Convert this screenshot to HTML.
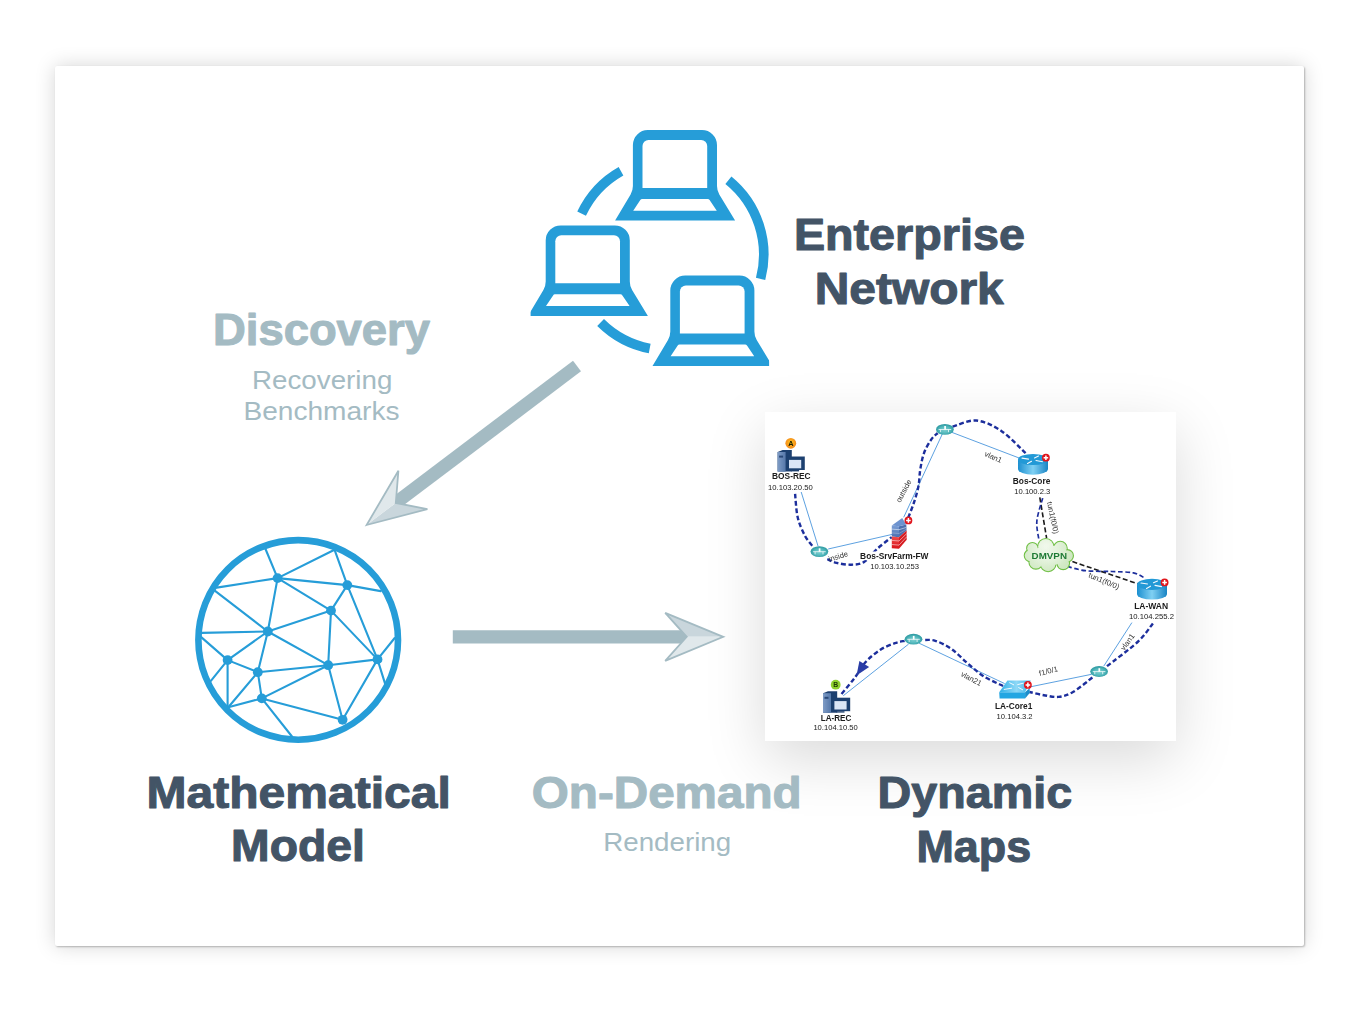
<!DOCTYPE html>
<html lang="en"><head><meta charset="utf-8"><title>Dynamic Maps</title>
<style>
html,body{margin:0;padding:0;background:#fff;}
body{width:1363px;height:1033px;position:relative;overflow:hidden;font-family:"Liberation Sans",Arial,sans-serif;}
.card{position:absolute;left:55px;top:66px;width:1249px;height:879.5px;background:#fff;border-radius:2px;box-shadow:1px 1px 2px rgba(0,0,0,.25),0 0 20px rgba(0,0,0,.17);}
.map{position:absolute;left:765px;top:412px;width:410.5px;height:328.5px;background:#fff;box-shadow:0 18px 56px rgba(0,0,0,.15);}
svg{position:absolute;left:0;top:0;}
svg text{font-family:"Liberation Sans",Arial,sans-serif;}
</style></head><body>
<div class="card"></div>
<div class="map"></div>
<svg width="1363" height="1033" viewBox="0 0 1363 1033">
<clipPath id="ec"><rect x="530.6" y="120" width="238.5" height="260"/></clipPath><g clip-path="url(#ec)">
<path d="M581.6 213.6 A95.7 95.7 0 0 1 621.0 171.2" fill="none" stroke="#269dd8" stroke-width="9.6"/>
<path d="M728.4 180.3 A95.7 95.7 0 0 1 760.6 278.9" fill="none" stroke="#269dd8" stroke-width="9.6"/>
<path d="M649.7 348.5 A95.7 95.7 0 0 1 600.6 322.5" fill="none" stroke="#269dd8" stroke-width="9.6"/>
<g transform="translate(632.9,130.1)"><path fill="#269dd8" d="M15 0 H69.1 A15 15 0 0 1 84.1 15 V56 Q84.1 60.5 86.4 64.5 L102.2 90.5 H-17.8 L-2.3 64.5 Q0 60.5 0 56 V15 A15 15 0 0 1 15 0 Z"/><path fill="#fff" d="M15.6 9.9 H68.3 A6 6 0 0 1 74.3 15.9 V57.8 H9.6 V15.9 A6 6 0 0 1 15.6 9.9 Z"/><path fill="#fff" d="M9.2 68.9 H74.8 Q76 68.9 76.7 70 L83.9 80.6 H0.3 L7.4 70 Q8 68.9 9.2 68.9 Z"/></g>
<g transform="translate(545.7,225.4)"><path fill="#269dd8" d="M15 0 H69.1 A15 15 0 0 1 84.1 15 V56 Q84.1 60.5 86.4 64.5 L102.2 90.5 H-17.8 L-2.3 64.5 Q0 60.5 0 56 V15 A15 15 0 0 1 15 0 Z"/><path fill="#fff" d="M15.6 9.9 H68.3 A6 6 0 0 1 74.3 15.9 V57.8 H9.6 V15.9 A6 6 0 0 1 15.6 9.9 Z"/><path fill="#fff" d="M9.2 68.9 H74.8 Q76 68.9 76.7 70 L83.9 80.6 H0.3 L7.4 70 Q8 68.9 9.2 68.9 Z"/></g>
<g transform="translate(670.3,275.6)"><path fill="#269dd8" d="M15 0 H69.1 A15 15 0 0 1 84.1 15 V56 Q84.1 60.5 86.4 64.5 L102.2 90.5 H-17.8 L-2.3 64.5 Q0 60.5 0 56 V15 A15 15 0 0 1 15 0 Z"/><path fill="#fff" d="M15.6 9.9 H68.3 A6 6 0 0 1 74.3 15.9 V57.8 H9.6 V15.9 A6 6 0 0 1 15.6 9.9 Z"/><path fill="#fff" d="M9.2 68.9 H74.8 Q76 68.9 76.7 70 L83.9 80.6 H0.3 L7.4 70 Q8 68.9 9.2 68.9 Z"/></g>
</g>
<line x1="577.0" y1="366.0" x2="394.6" y2="503.8" stroke="#a4bbc3" stroke-width="13.2"/><path d="M366.6 525.0 L427.4 509.1 L395.8 502.9 Z" fill="#c9d6dc"/><path d="M366.6 525.0 L398.4 470.8 L395.8 502.9 Z" fill="#e0e8eb"/><path d="M366.6 525.0 L427.4 509.1 L395.8 502.9 L398.4 470.8 Z" fill="none" stroke="#a4bbc3" stroke-width="1.8" stroke-linejoin="miter"/>
<line x1="452.8" y1="636.8" x2="688.1" y2="636.8" stroke="#a4bbc3" stroke-width="13.2"/><path d="M723.3 636.8 L665.2 612.8 L686.7 636.8 Z" fill="#c9d6dc"/><path d="M723.3 636.8 L665.2 660.8 L686.7 636.8 Z" fill="#e0e8eb"/><path d="M723.3 636.8 L665.2 612.8 L686.7 636.8 L665.2 660.8 Z" fill="none" stroke="#a4bbc3" stroke-width="1.8" stroke-linejoin="miter"/>
<g stroke="#269dd8" stroke-width="2.1" fill="none" stroke-linecap="round"><line x1="277.6" y1="578.1" x2="347.3" y2="585.1"/><line x1="277.6" y1="578.1" x2="331.0" y2="610.6"/><line x1="277.6" y1="578.1" x2="267.8" y2="631.5"/><line x1="347.3" y1="585.1" x2="331.0" y2="610.6"/><line x1="347.3" y1="585.1" x2="377.5" y2="659.4"/><line x1="331.0" y1="610.6" x2="267.8" y2="631.5"/><line x1="331.0" y1="610.6" x2="328.2" y2="665.2"/><line x1="331.0" y1="610.6" x2="377.5" y2="659.4"/><line x1="267.8" y1="631.5" x2="227.6" y2="660.1"/><line x1="267.8" y1="631.5" x2="257.8" y2="672.2"/><line x1="267.8" y1="631.5" x2="328.2" y2="665.2"/><line x1="227.6" y1="660.1" x2="257.8" y2="672.2"/><line x1="257.8" y1="672.2" x2="328.2" y2="665.2"/><line x1="257.8" y1="672.2" x2="261.8" y2="698.4"/><line x1="328.2" y1="665.2" x2="377.5" y2="659.4"/><line x1="328.2" y1="665.2" x2="261.8" y2="698.4"/><line x1="328.2" y1="665.2" x2="342.6" y2="719.8"/><line x1="377.5" y1="659.4" x2="342.6" y2="719.8"/><line x1="261.8" y1="698.4" x2="342.6" y2="719.8"/><line x1="265.5" y1="549.0" x2="277.6" y2="578.1"/><line x1="334.5" y1="549.7" x2="277.6" y2="578.1"/><line x1="334.5" y1="549.7" x2="347.3" y2="585.1"/><line x1="216.7" y1="587.6" x2="277.6" y2="578.1"/><line x1="214.4" y1="590.4" x2="267.8" y2="631.5"/><line x1="380.7" y1="591.1" x2="347.3" y2="585.1"/><line x1="201.6" y1="632.9" x2="267.8" y2="631.5"/><line x1="200.9" y1="636.9" x2="227.6" y2="660.1"/><line x1="394.7" y1="638.0" x2="377.5" y2="659.4"/><line x1="210.9" y1="680.8" x2="227.6" y2="660.1"/><line x1="227.6" y1="706.3" x2="227.6" y2="660.1"/><line x1="228.3" y1="707.3" x2="257.8" y2="672.2"/><line x1="228.3" y1="707.3" x2="261.8" y2="698.4"/><line x1="292.0" y1="736.5" x2="261.8" y2="698.4"/><line x1="384.9" y1="683.1" x2="377.5" y2="659.4"/></g><g fill="#269dd8"><circle cx="277.6" cy="578.1" r="4.9"/><circle cx="347.3" cy="585.1" r="4.9"/><circle cx="331" cy="610.6" r="4.9"/><circle cx="267.8" cy="631.5" r="4.9"/><circle cx="227.6" cy="660.1" r="4.9"/><circle cx="257.8" cy="672.2" r="4.9"/><circle cx="328.2" cy="665.2" r="4.9"/><circle cx="377.5" cy="659.4" r="4.9"/><circle cx="261.8" cy="698.4" r="4.9"/><circle cx="342.6" cy="719.8" r="4.9"/></g><circle cx="298.2" cy="639.9" r="99.8" fill="none" stroke="#269dd8" stroke-width="6.6"/>
<text x="909.4" y="250.4" text-anchor="middle" textLength="231" lengthAdjust="spacingAndGlyphs" font-size="45.2" font-weight="700" fill="#435466" stroke="#435466" stroke-width="1.1" stroke-linejoin="round">Enterprise</text>
<text x="909.2" y="303.8" text-anchor="middle" textLength="189" lengthAdjust="spacingAndGlyphs" font-size="45.2" font-weight="700" fill="#435466" stroke="#435466" stroke-width="1.1" stroke-linejoin="round">Network</text>
<text x="321.5" y="345.2" text-anchor="middle" textLength="217" lengthAdjust="spacingAndGlyphs" font-size="45.2" font-weight="700" fill="#a4bbc3" stroke="#a4bbc3" stroke-width="1.1" stroke-linejoin="round">Discovery</text>
<text x="322.2" y="388.7" text-anchor="middle" textLength="140.4" lengthAdjust="spacingAndGlyphs" font-size="25.2" fill="#a4bbc3">Recovering</text>
<text x="321.5" y="420.2" text-anchor="middle" textLength="156" lengthAdjust="spacingAndGlyphs" font-size="25.2" fill="#a4bbc3">Benchmarks</text>
<text x="298.7" y="807.8" text-anchor="middle" textLength="304.3" lengthAdjust="spacingAndGlyphs" font-size="45.2" font-weight="700" fill="#435466" stroke="#435466" stroke-width="1.1" stroke-linejoin="round">Mathematical</text>
<text x="298" y="861.4" text-anchor="middle" textLength="133.8" lengthAdjust="spacingAndGlyphs" font-size="45.2" font-weight="700" fill="#435466" stroke="#435466" stroke-width="1.1" stroke-linejoin="round">Model</text>
<text x="666.7" y="807.7" text-anchor="middle" textLength="269.8" lengthAdjust="spacingAndGlyphs" font-size="45.2" font-weight="700" fill="#a4bbc3" stroke="#a4bbc3" stroke-width="1.1" stroke-linejoin="round">On-Demand</text>
<text x="667.2" y="850.7" text-anchor="middle" textLength="127.9" lengthAdjust="spacingAndGlyphs" font-size="25.2" fill="#a4bbc3">Rendering</text>
<text x="974.8" y="807.9" text-anchor="middle" textLength="194.6" lengthAdjust="spacingAndGlyphs" font-size="45.2" font-weight="700" fill="#435466" stroke="#435466" stroke-width="1.1" stroke-linejoin="round">Dynamic</text>
<text x="973.8" y="861.7" text-anchor="middle" textLength="114.6" lengthAdjust="spacingAndGlyphs" font-size="45.2" font-weight="700" fill="#435466" stroke="#435466" stroke-width="1.1" stroke-linejoin="round">Maps</text>
<defs><filter id="soft" x="-5%" y="-5%" width="110%" height="110%"><feGaussianBlur stdDeviation="0.38"/></filter><radialGradient id="lanG" cx=".5" cy=".55" r=".6"><stop offset="0" stop-color="#7fd0d1"/><stop offset=".5" stop-color="#55b9bd"/><stop offset="1" stop-color="#1f8f98"/></radialGradient><linearGradient id="rtB" x1="0" x2="1" y1="0" y2="0"><stop offset="0" stop-color="#1c8fd0"/><stop offset=".5" stop-color="#7fd0f3"/><stop offset="1" stop-color="#1a84c4"/></linearGradient><linearGradient id="swT" x1="0" x2="1" y1="0" y2="0"><stop offset="0" stop-color="#2fb0e8"/><stop offset=".55" stop-color="#8ed8f6"/><stop offset="1" stop-color="#37b4ea"/></linearGradient><linearGradient id="fwB" x1="0" x2="0" y1="0" y2="1"><stop offset="0" stop-color="#7b9fd6"/><stop offset="1" stop-color="#4a6eb0"/></linearGradient><linearGradient id="fwR" x1="0" x2="0" y1="0" y2="1"><stop offset="0" stop-color="#f04a4a"/><stop offset="1" stop-color="#d81418"/></linearGradient><linearGradient id="wsT" x1="0" x2="1" y1="0" y2="0"><stop offset="0" stop-color="#7f9cc6"/><stop offset="1" stop-color="#5578aa"/></linearGradient><radialGradient id="clG" gradientUnits="userSpaceOnUse" cx="1046" cy="548" r="26"><stop offset="0" stop-color="#f4faf0"/><stop offset="1" stop-color="#cfe8c2"/></radialGradient><radialGradient id="clG2" cx=".5" cy=".5" r=".5"><stop offset="0" stop-color="#eef7e9" stop-opacity=".9"/><stop offset="1" stop-color="#e0f0d8" stop-opacity="0"/></radialGradient><radialGradient id="bA" cx=".5" cy=".45" r=".55"><stop offset="0" stop-color="#ffd21a"/><stop offset=".55" stop-color="#f9a01b"/><stop offset="1" stop-color="#f28a1c"/></radialGradient></defs><g filter="url(#soft)"><g stroke="#4b96dc" stroke-width=".9" fill="none"><line x1="801.2" y1="492" x2="818.1" y2="546.3"/><line x1="828.2" y1="549" x2="892.6" y2="534.3"/><line x1="903.7" y1="517.3" x2="944.4" y2="429.5"/><line x1="944.4" y1="429.5" x2="1019.4" y2="458.1"/><line x1="1131.9" y1="622.6" x2="1103.7" y2="666.2"/><line x1="1091.6" y1="674.3" x2="1031" y2="686.7"/><line x1="1004.7" y1="683.6" x2="919.1" y2="643.2"/><line x1="908.6" y1="644.1" x2="843.3" y2="695.7"/></g><g stroke="#1a1a1a" stroke-width="1.6" stroke-dasharray="5 2.6" fill="none"><line x1="1039.8" y1="497.4" x2="1046.6" y2="538.1"/><line x1="1072.4" y1="561.6" x2="1137.8" y2="583.8"/></g><g stroke="#1d2f9c" stroke-width="2.4" stroke-dasharray="4.7 2.6" fill="none"><path d="M795.1 493.8 C795.5 497.8 796.1 510.7 797.8 517.8 C799.5 524.9 802.6 531.3 805.2 536.2 C807.8 541.1 812.1 545.4 813.5 547.2"/><path d="M827.3 559.2 C828.8 559.8 832.5 561.9 836.5 562.8 C840.5 563.7 846.6 564.9 851.2 564.7 C855.8 564.6 859.8 564.5 864.1 561.9 C868.4 559.3 872.4 553.1 877.0 549.0 C881.6 544.9 889.2 539.1 891.7 537.1"/><path d="M908.2 517.8 C909.1 515.3 912.1 508.2 913.8 503.0 C915.5 497.8 917.3 492.0 918.4 486.5 C919.5 481.0 919.3 475.4 920.2 469.9 C921.1 464.4 922.1 458.4 923.9 453.4 C925.7 448.3 928.9 443.0 931.2 439.6 C933.5 436.2 936.6 434.2 937.7 433.1"/><path d="M952.5 426.7 C956.5 425.7 968.1 419.8 976.2 420.5 C984.3 421.2 993.0 425.4 1001.3 430.9 C1009.5 436.3 1021.6 449.5 1025.7 453.2"/><path d="M1042.7 498.1 C1041.7 501.9 1037.6 513.9 1036.9 520.7 C1036.2 527.5 1038.4 535.8 1038.7 538.8" stroke-width="1.7"/><path d="M1067.3 566.4 C1070.3 567.1 1078.1 569.9 1085.5 570.7 C1092.9 571.6 1103.6 571.1 1111.6 571.5 C1119.6 571.9 1127.7 571.7 1133.4 572.9 C1139.1 574.1 1143.7 577.7 1145.7 578.7" stroke-width="1.7"/><path d="M1152.9 623.4 C1150.4 626.5 1145.3 634.9 1137.6 642.0 C1129.9 649.1 1112.0 662.2 1106.9 666.2"/><path d="M1092.4 677.5 C1089.2 679.9 1078.7 688.8 1073.0 692.0 C1067.3 695.2 1063.3 696.4 1058.5 696.9 C1053.7 697.4 1048.8 696.0 1043.9 695.2 C1039.1 694.4 1031.8 692.5 1029.4 692.0"/><path d="M1003.1 686.0 C999.9 684.4 989.6 680.1 983.7 676.3 C977.8 672.5 973.0 668.0 967.6 663.4 C962.2 658.8 956.8 652.7 951.4 648.9 C946.0 645.1 940.0 642.3 935.3 640.8 C930.6 639.3 925.2 640.1 923.2 640.0"/><path d="M904.6 640.8 C903.0 641.2 898.9 641.7 894.9 643.2 C890.9 644.7 885.2 646.6 880.4 649.7 C875.6 652.8 870.2 657.1 865.9 661.8 C861.6 666.5 858.8 672.5 854.6 678.0 C850.4 683.5 843.1 692.1 840.8 694.9"/></g><polygon points="859.4,661 869.1,667 856.5,675.5" fill="#2a3da6"/><ellipse cx="819.4" cy="551.6" rx="8.9" ry="5.4" fill="url(#lanG)"/><path d="M813.1 551.7 H825.6999999999999 M815.1 551.7 V554.4 M823.0 551.7 V554.4" stroke="#fff" stroke-width=".9" fill="none" opacity=".85"/><path d="M819.6 548.3000000000001 V551.8000000000001" stroke="#fff" stroke-width="1.7" fill="none"/><ellipse cx="944.9" cy="429.4" rx="8.9" ry="5.4" fill="url(#lanG)"/><path d="M938.6 429.5 H951.1999999999999 M940.6 429.5 V432.2 M948.5 429.5 V432.2" stroke="#fff" stroke-width=".9" fill="none" opacity=".85"/><path d="M945.1 426.09999999999997 V429.59999999999997" stroke="#fff" stroke-width="1.7" fill="none"/><ellipse cx="1099.1" cy="671.5" rx="8.9" ry="5.4" fill="url(#lanG)"/><path d="M1092.8 671.6 H1105.3999999999999 M1094.8 671.6 V674.3 M1102.6999999999998 671.6 V674.3" stroke="#fff" stroke-width=".9" fill="none" opacity=".85"/><path d="M1099.3 668.2 V671.7" stroke="#fff" stroke-width="1.7" fill="none"/><ellipse cx="913.5" cy="639.2" rx="8.9" ry="5.4" fill="url(#lanG)"/><path d="M907.2 639.3000000000001 H919.8 M909.2 639.3000000000001 V642.0 M917.1 639.3000000000001 V642.0" stroke="#fff" stroke-width=".9" fill="none" opacity=".85"/><path d="M913.7 635.9000000000001 V639.4000000000001" stroke="#fff" stroke-width="1.7" fill="none"/><path d="M777.6 452 L782.6 450 H791.8000000000001 V471.6 H777.6 Z" fill="#1f4170"/><rect x="777.6" y="452" width="8" height="19.6" fill="url(#wsT)"/><rect x="779.1" y="455.6" width="4" height="2" fill="#2a4a78"/><rect x="787.4" y="456.5" width="17.4" height="13.5" fill="#1f4170"/><rect x="789.0" y="459.9" width="12.2" height="8.4" fill="#dbe6f7"/><rect x="791.1" y="470" width="8" height="1.4" fill="#1f4170"/><path d="M823 693.2 L828 691.2 H837.2 V712.8000000000001 H823 Z" fill="#1f4170"/><rect x="823" y="693.2" width="8" height="19.6" fill="url(#wsT)"/><rect x="824.5" y="696.8000000000001" width="4" height="2" fill="#2a4a78"/><rect x="832.8" y="697.7" width="17.4" height="13.5" fill="#1f4170"/><rect x="834.4" y="701.1" width="12.2" height="8.4" fill="#dbe6f7"/><rect x="836.5" y="711.2" width="8" height="1.4" fill="#1f4170"/><polygon points="891.8,525.6 899.0,526.2 899.0,537.2 891.8,536.6" fill="url(#fwB)"/><polygon points="891.8,536.6 899.0,537.2 899.0,548.8 891.8,548.3" fill="url(#fwR)"/><polygon points="899.0,526.2 906.3,524.5 906.6,530.6 899.0,537.2" fill="#4d6fae"/><polygon points="899.0,537.2 906.6,530.6 906.7,539.8 899.0,548.8" fill="#d61c20"/><polygon points="891.8,525.6 902.2,517.9 906.3,524.5 899.0,526.2" fill="#6d93cf"/><g stroke="#fff" stroke-width=".7" opacity=".75" fill="none"><polyline points="891.8,529.1 899.0,529.7 906.3,527.4"/><polyline points="891.8,532.9 899.0,533.5 906.5,529.1" opacity=".5"/><polyline points="891.8,540.4 899.0,541.0 906.6,533.7"/><polyline points="891.8,544.5 899.0,545.1 906.6,536.9"/></g><path d="M1018 459.5 V469.09999999999997 A15 5.6 0 0 0 1048 469.09999999999997 V459.5 Z" fill="url(#rtB)"/><ellipse cx="1033" cy="459.5" rx="15" ry="5.6" fill="#2299d6"/><g stroke="#fff" stroke-width="1.1" stroke-linecap="round" opacity=".95"><path d="M1022 458.09999999999997 L1028.5 459.09999999999997"/><path d="M1034.5 457.9 L1038.5 456.09999999999997"/><path d="M1027.5 463.5 L1031.5 461.29999999999995"/><path d="M1036 460.5 L1042.5 461.7"/></g><path d="M1137 584.4 V594.0 A15 5.6 0 0 0 1167 594.0 V584.4 Z" fill="url(#rtB)"/><ellipse cx="1152" cy="584.4" rx="15" ry="5.6" fill="#2299d6"/><g stroke="#fff" stroke-width="1.1" stroke-linecap="round" opacity=".95"><path d="M1141 583.0 L1147.5 584.0"/><path d="M1153.5 582.8 L1157.5 581.0"/><path d="M1146.5 588.4 L1150.5 586.1999999999999"/><path d="M1155 585.4 L1161.5 586.5999999999999"/></g><path d="M999.2 692.3000000000001 H1025.1000000000001 V698.6 H999.6 Z" fill="#22a6e2"/><path d="M1025.1000000000001 692.3000000000001 L1029.7 687.9 V693.1 L1025.1000000000001 698.6 Z" fill="#1b8fcb"/><path d="M1007.4000000000001 680.6 H1030.7 L1025.1000000000001 692.3000000000001 H999.2 Z" fill="url(#swT)"/><g stroke="#fff" stroke-width="1" stroke-linecap="round" opacity=".9"><path d="M1009.7 682.8000000000001 L1013.7 684.8000000000001"/><path d="M1017.7 684.6 L1023.2 683.2"/><path d="M1004.2 689.4 L1011.7 688.2"/><path d="M1018.7 687.6 L1022.7 689.8000000000001"/></g><g stroke="#6fbf44" stroke-width="2.2" fill="#6fbf44"><circle cx="1032.4" cy="548.2" r="5.2"/><circle cx="1045.8" cy="546.6" r="7.6"/><circle cx="1060.3" cy="548.2" r="6.4"/><circle cx="1067.3" cy="555.8" r="5.6"/><circle cx="1063.2" cy="563.3" r="5.8"/><circle cx="1048.1" cy="563.9" r="7.3"/><circle cx="1035.9" cy="562.2" r="6.4"/><circle cx="1030.4" cy="555.6" r="5.6"/></g><g fill="url(#clG)"><circle cx="1032.4" cy="548.2" r="5.2"/><circle cx="1045.8" cy="546.6" r="7.6"/><circle cx="1060.3" cy="548.2" r="6.4"/><circle cx="1067.3" cy="555.8" r="5.6"/><circle cx="1063.2" cy="563.3" r="5.8"/><circle cx="1048.1" cy="563.9" r="7.3"/><circle cx="1035.9" cy="562.2" r="6.4"/><circle cx="1030.4" cy="555.6" r="5.6"/><ellipse cx="1049" cy="555.5" rx="17" ry="10"/></g><ellipse cx="1049" cy="555.5" rx="19" ry="11" fill="url(#clG2)"/><circle cx="908.4" cy="520.4" r="3.9" fill="#e0141c"/><path d="M906.1 520.4 H910.6999999999999 M908.4 518.1 V522.6999999999999" stroke="#fff" stroke-width="1.5"/><circle cx="1045.9" cy="457.7" r="3.9" fill="#e0141c"/><path d="M1043.6000000000001 457.7 H1048.2 M1045.9 455.4 V460.0" stroke="#fff" stroke-width="1.5"/><circle cx="1164.6" cy="582.4" r="3.9" fill="#e0141c"/><path d="M1162.3 582.4 H1166.8999999999999 M1164.6 580.1 V584.6999999999999" stroke="#fff" stroke-width="1.5"/><circle cx="1027.9" cy="684.9" r="3.9" fill="#e0141c"/><path d="M1025.6000000000001 684.9 H1030.2 M1027.9 682.6 V687.1999999999999" stroke="#fff" stroke-width="1.5"/><circle cx="790.8" cy="443.3" r="5.4" fill="url(#bA)"/><text x="790.8" y="445.9" text-anchor="middle" font-size="7.4" font-weight="700" fill="#1a1a00">A</text><circle cx="835.7" cy="684.7" r="4.9" fill="#8fd12f"/><text x="835.7" y="687.2" text-anchor="middle" font-size="6.8" font-weight="700" fill="#1d3a00">B</text><rect x="859" y="551.5" width="71" height="8.6" fill="#fff"/><text x="791.35" y="479.4" text-anchor="middle" textLength="38.5" lengthAdjust="spacingAndGlyphs" font-size="8.4" font-weight="700" fill="#1a1a1a">BOS-REC</text><text x="790.4" y="489.6" text-anchor="middle" textLength="44.8" lengthAdjust="spacingAndGlyphs" font-size="8.0" font-weight="400" fill="#1a1a1a">10.103.20.50</text><text x="894.3" y="558.7" text-anchor="middle" textLength="68.4" lengthAdjust="spacingAndGlyphs" font-size="8.4" font-weight="700" fill="#1a1a1a">Bos-SrvFarm-FW</text><text x="894.65" y="568.7" text-anchor="middle" textLength="48.9" lengthAdjust="spacingAndGlyphs" font-size="8.0" font-weight="400" fill="#1a1a1a">10.103.10.253</text><text x="1031.6" y="483.8" text-anchor="middle" textLength="37.5" lengthAdjust="spacingAndGlyphs" font-size="8.4" font-weight="700" fill="#1a1a1a">Bos-Core</text><text x="1032.3" y="494" text-anchor="middle" textLength="36" lengthAdjust="spacingAndGlyphs" font-size="8.0" font-weight="400" fill="#1a1a1a">10.100.2.3</text><text x="1049.3" y="559" text-anchor="middle" textLength="35.4" lengthAdjust="spacingAndGlyphs" font-size="8.4" font-weight="700" fill="#1f7a35">DMVPN</text><text x="1151.15" y="609.2" text-anchor="middle" textLength="34" lengthAdjust="spacingAndGlyphs" font-size="8.4" font-weight="700" fill="#1a1a1a">LA-WAN</text><text x="1151.5" y="618.6" text-anchor="middle" textLength="45" lengthAdjust="spacingAndGlyphs" font-size="8.0" font-weight="400" fill="#1a1a1a">10.104.255.2</text><text x="1013.6" y="708.9" text-anchor="middle" textLength="37.4" lengthAdjust="spacingAndGlyphs" font-size="8.4" font-weight="700" fill="#1a1a1a">LA-Core1</text><text x="1014.6" y="719" text-anchor="middle" textLength="36" lengthAdjust="spacingAndGlyphs" font-size="8.0" font-weight="400" fill="#1a1a1a">10.104.3.2</text><text x="836" y="720.7" text-anchor="middle" textLength="30.6" lengthAdjust="spacingAndGlyphs" font-size="8.4" font-weight="700" fill="#1a1a1a">LA-REC</text><text x="835.6" y="729.9" text-anchor="middle" textLength="44.4" lengthAdjust="spacingAndGlyphs" font-size="8.0" font-weight="400" fill="#1a1a1a">10.104.10.50</text><text transform="translate(838.2,556.4) rotate(-17.5)" text-anchor="middle" y="2.6" font-size="7.6" fill="#333">inside</text><text transform="translate(903.7,490.9) rotate(-62)" text-anchor="middle" y="2.6" font-size="7.6" fill="#333">outside</text><text transform="translate(993.3,457) rotate(24)" text-anchor="middle" y="2.6" font-size="7.6" fill="#333">vlan1</text><text transform="translate(1052.9,517.7) rotate(78)" text-anchor="middle" y="2.6" font-size="7.6" fill="#333">tun1(f0/0)</text><text transform="translate(1104,580.9) rotate(22.6)" text-anchor="middle" y="2.6" font-size="7.6" fill="#333">tun1(f0/0)</text><text transform="translate(1048.4,671) rotate(-14.5)" text-anchor="middle" y="2.6" font-size="7.6" fill="#333">f1/0/1</text><text transform="translate(1127.5,642) rotate(-54)" text-anchor="middle" y="2.6" font-size="7.6" fill="#333">vlan1</text><text transform="translate(971.3,678.7) rotate(28)" text-anchor="middle" y="2.6" font-size="7.6" fill="#333">vlan21</text></g>
</svg>
</body></html>
